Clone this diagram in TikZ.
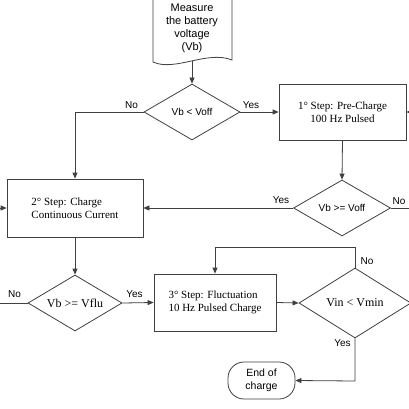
\documentclass[tikz,border=0pt]{standalone}
\usepackage{fontspec}
\setmainfont{Liberation Serif}
\setsansfont{Liberation Sans}
\usetikzlibrary{shapes.geometric,arrows.meta}
\begin{document}
\begin{tikzpicture}[x=1pt,y=-1pt,
  line/.style={draw=black!75,line width=0.8pt},
  arr/.style={line,-{Triangle[length=6pt,width=5pt]}},
  dia/.style={diamond,line,inner sep=0pt,aspect=2},
  box/.style={rectangle,line,inner sep=0pt,align=left},
  sanstext/.style={font=\sffamily\fontsize{10}{12}\selectfont},
  seriftext/.style={font=\rmfamily\fontsize{11}{13}\selectfont},
  serifdia/.style={font=\rmfamily\fontsize{12}{14}\selectfont},
  lab/.style={sanstext,inner sep=0pt}]
\clip (0,0) rectangle (409,409);
\fill[white] (0,0) rectangle (409,409);
% document shape
\draw[line,fill=white] (153,-5) -- (153,62) .. controls (175,72) and (207,50) .. (232,60) -- (232,-5);
\node[align=center,inner sep=0pt,font=\sffamily\fontsize{11}{13}\selectfont] (doc) at (192,28) {Measure\\the battery\\voltage\\(Vb)};
\coordinate (docb) at (192,61);
% nodes
\node[dia,sanstext,minimum width=96pt,minimum height=56pt] (d1) at (192,112) {Vb < Voff};
\node[box,seriftext,minimum width=127pt,minimum height=56pt,align=center] (b1) at (342.5,112) {1° Step: Pre-Charge\\100 Hz Pulsed};
\node[dia,sanstext,minimum width=97pt,minimum height=56pt] (d2) at (342,208) {Vb >= Voff};
\node[box,seriftext,minimum width=136pt,minimum height=58pt] (b2) at (75,208) {2° Step: Charge\\Continuous Current};
\node[dia,serifdia,minimum width=94pt,minimum height=56pt] (d3) at (75,303) {Vb >= Vflu};
\node[box,seriftext,minimum width=122pt,minimum height=57pt] (b3) at (215,302.5) {3° Step: Fluctuation\\10 Hz Pulsed Charge};
\node[dia,serifdia,minimum width=112pt,minimum height=70pt] (d4) at (355,303) {Vin < Vmin};
\node[rectangle,line,rounded corners=16pt,minimum width=67pt,minimum height=37pt,inner sep=0pt,align=center,font=\sffamily\fontsize{10.5}{13}\selectfont] (t) at (261.5,380.5) {End of\\charge};
\coordinate (offr) at (420,208);
\coordinate (offl) at (-10,303);
\coordinate (loop) at (355,247);
\coordinate (yesc) at (355,381);
% connectors
\draw[arr] (docb) -- (d1.north);
\draw[arr] (d1.west) -| (b2.north);
\draw[arr] (d1.east) -- (b1.west);
\draw[arr] (b1.south) -- (d2.north);
\draw[arr] (d2.west) -- (b2.east);
\draw[arr] (d2.east) -- (offr) |- (b1.east);
\draw[arr] (b2.south) -- (d3.north);
\draw[arr] (d3.west) -- (offl) |- (b2.west);
\draw[arr] (d3.east) -- (b3.west);
\draw[arr] (b3.east) -- (d4.west);
\draw[arr] (d4.north) -- (loop) -| (b3.north);
\draw[arr] (d4.south) -- (yesc) -- (t.east);
% labels
\node[lab] (l1) at (131.5,105) {No};
\node[lab] (l2) at (251,105) {Yes};
\node[lab] (l3) at (281,200) {Yes};
\node[lab] (l4) at (399,201) {No};
\node[lab] (l5) at (14.5,294) {No};
\node[lab] (l6) at (134.5,294) {Yes};
\node[lab] (l7) at (367,261) {No};
\node[lab] (l8) at (342.5,343) {Yes};
\end{tikzpicture}
\end{document}
